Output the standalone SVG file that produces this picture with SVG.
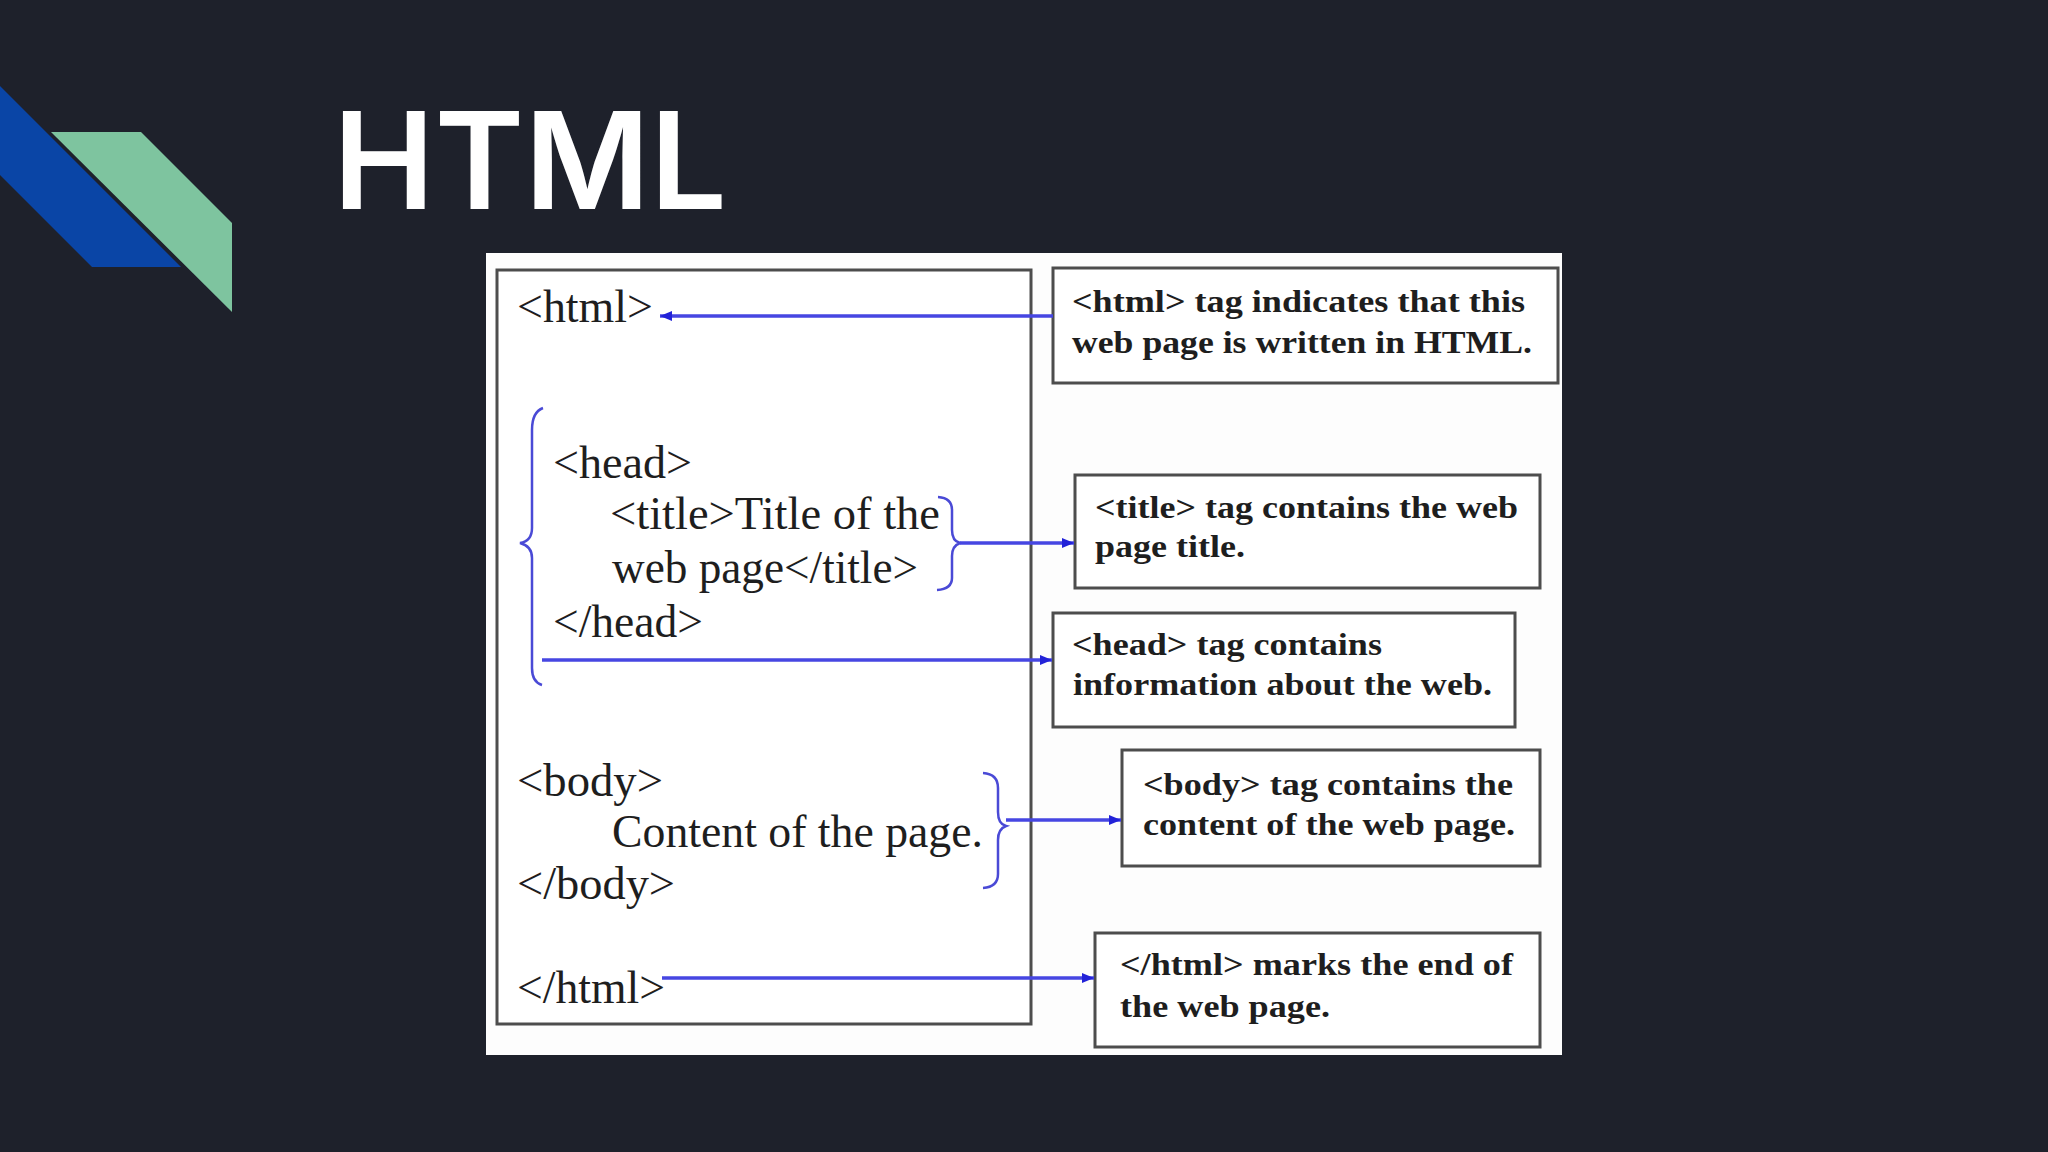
<svg xmlns="http://www.w3.org/2000/svg" width="2048" height="1152" viewBox="0 0 2048 1152">
<style>
.code{font-family:"Liberation Serif","Times New Roman",serif;font-size:46px;fill:#1e1e1e}
.desc{font-family:"Liberation Serif","Times New Roman",serif;font-size:32px;font-weight:bold;fill:#1e1e1e}
.box{fill:#ffffff;stroke:#4d4d4d;stroke-width:3}
.conn{fill:none;stroke:#4646e2;stroke-width:3.5}
.brace{fill:none;stroke:#4a4ad6;stroke-width:2.5}
</style>
<defs>
<marker id="ah" markerUnits="userSpaceOnUse" markerWidth="14" markerHeight="12" refX="12" refY="5" orient="auto">
<path d="M0,0 L12,5 L0,10 z" fill="#2222d8"/>
</marker>
</defs>
<rect x="0" y="0" width="2048" height="1152" fill="#1e212b"/>
<g id="decor">
<polygon points="0,86 181,267 92,267 0,175" fill="#0a45a6"/>
<polygon points="51,132 141,132 232,223 232,312" fill="#7ec49f"/>
</g>
<text id="title" x="333" y="209" font-family="Inter,'Open Sans',sans-serif" font-size="135" font-weight="600" fill="#ffffff" textLength="394" lengthAdjust="spacingAndGlyphs">HTML</text>
<rect id="panel" x="486" y="253" width="1076" height="802" fill="#fdfdfd"/>
<g id="code-box">
<rect class="box" x="497" y="270" width="534" height="754"/>
<text class="code" x="517" y="322" textLength="136" lengthAdjust="spacingAndGlyphs">&lt;html&gt;</text>
<text class="code" x="553" y="478" textLength="139" lengthAdjust="spacingAndGlyphs">&lt;head&gt;</text>
<text class="code" x="610" y="529" textLength="330" lengthAdjust="spacingAndGlyphs">&lt;title&gt;Title of the</text>
<text class="code" x="612" y="583" textLength="306" lengthAdjust="spacingAndGlyphs">web page&lt;/title&gt;</text>
<text class="code" x="553" y="637" textLength="150" lengthAdjust="spacingAndGlyphs">&lt;/head&gt;</text>
<text class="code" x="517" y="796" textLength="146" lengthAdjust="spacingAndGlyphs">&lt;body&gt;</text>
<text class="code" x="612" y="847" textLength="371" lengthAdjust="spacingAndGlyphs">Content of the page.</text>
<text class="code" x="517" y="899" textLength="158" lengthAdjust="spacingAndGlyphs">&lt;/body&gt;</text>
<text class="code" x="517" y="1003" textLength="148" lengthAdjust="spacingAndGlyphs">&lt;/html&gt;</text>
<path class="brace" d="M543 408 Q532 412 532 430 L532 528 Q532 541 520 543 Q532 546 532 558 L532 668 Q532 682 542 685"/>
<path class="brace" d="M938 497 Q952 498 952 510 L952 530 Q952 541 960 543 Q952 546 952 556 L952 578 Q952 589 937 590"/>
<path class="brace" d="M983 773 Q998 774 998 788 L998 812 Q998 824 1006 826 Q998 829 998 840 L998 874 Q998 887 983 888"/>
</g>
<g id="node-html">
<rect class="box" x="1053" y="268" width="505" height="115"/>
<text class="desc" x="1072" y="312" textLength="453" lengthAdjust="spacingAndGlyphs">&lt;html&gt; tag indicates that this</text>
<text class="desc" x="1072" y="353" textLength="460" lengthAdjust="spacingAndGlyphs">web page is written in HTML.</text>
</g>
<g id="node-title">
<rect class="box" x="1075" y="475" width="465" height="113"/>
<text class="desc" x="1095" y="518" textLength="423" lengthAdjust="spacingAndGlyphs">&lt;title&gt; tag contains the web</text>
<text class="desc" x="1095" y="557" textLength="150" lengthAdjust="spacingAndGlyphs">page title.</text>
</g>
<g id="node-head">
<rect class="box" x="1053" y="613" width="462" height="114"/>
<text class="desc" x="1072" y="655" textLength="310" lengthAdjust="spacingAndGlyphs">&lt;head&gt; tag contains</text>
<text class="desc" x="1073" y="695" textLength="419" lengthAdjust="spacingAndGlyphs">information about the web.</text>
</g>
<g id="node-body">
<rect class="box" x="1122" y="750" width="418" height="116"/>
<text class="desc" x="1143" y="795" textLength="370" lengthAdjust="spacingAndGlyphs">&lt;body&gt; tag contains the</text>
<text class="desc" x="1143" y="835" textLength="372" lengthAdjust="spacingAndGlyphs">content of the web page.</text>
</g>
<g id="node-end">
<rect class="box" x="1095" y="933" width="445" height="114"/>
<text class="desc" x="1120" y="975" textLength="393" lengthAdjust="spacingAndGlyphs">&lt;/html&gt; marks the end of</text>
<text class="desc" x="1120" y="1017" textLength="210" lengthAdjust="spacingAndGlyphs">the web page.</text>
</g>
<g id="connectors">
<line class="conn" x1="1053" y1="316" x2="660" y2="316" marker-end="url(#ah)"/>
<line class="conn" x1="960" y1="543" x2="1074" y2="543" marker-end="url(#ah)"/>
<line class="conn" x1="542" y1="660" x2="1052" y2="660" marker-end="url(#ah)"/>
<line class="conn" x1="1006" y1="820" x2="1121" y2="820" marker-end="url(#ah)"/>
<line class="conn" x1="662" y1="978" x2="1094" y2="978" marker-end="url(#ah)"/>
</g>
</svg>
